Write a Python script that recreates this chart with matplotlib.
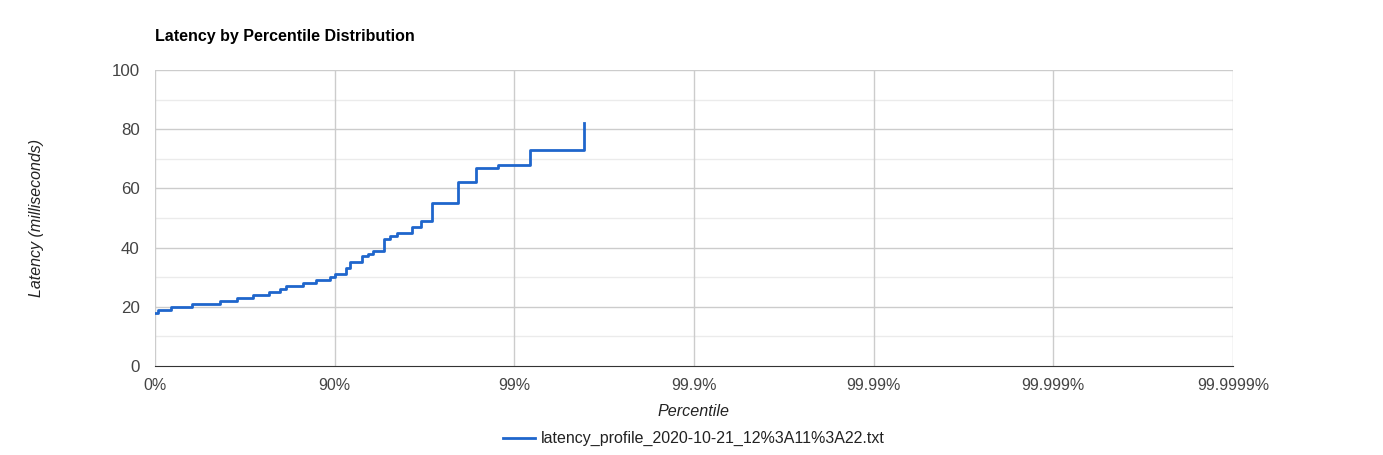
import matplotlib
matplotlib.use("Agg")
import matplotlib.pyplot as plt
import numpy as np
from matplotlib.lines import Line2D

plt.rcParams['font.family'] = ['Liberation Sans', 'DejaVu Sans']

# Percentile (in %) where each latency level starts, and latency (ms)
percentiles = [0.0, 4.1, 18.9, 37.5, 56.3, 64.9, 71.4, 76.7, 79.8, 81.3, 84.9, 87.3,
               89.4, 90.1, 91.4, 91.8, 93.0, 93.5, 93.9, 94.7, 95.1, 95.5, 96.3,
               96.7, 97.13, 97.95, 98.36, 98.77, 99.18, 99.59]
latency_ms = [18, 19, 20, 21, 22, 23, 24, 25, 26, 27, 28, 29, 30, 31, 33, 35, 37, 38,
              39, 43, 44, 45, 47, 49, 55, 62, 67, 68, 73, 82]

tick_labels = ["0%", "90%", "99%", "99.9%", "99.99%", "99.999%", "99.9999%"]
series_name = "latency_profile_2020-10-21_12%3A11%3A22.txt"

p = np.array(percentiles) / 100.0
xv = 1.0 / (1.0 - p)

fig = plt.figure(figsize=(13.83, 4.55), dpi=100)
ax = fig.add_axes([155/1383, 1-366/455, (1233-155)/1383, (366-70)/455])

ax.set_xscale('log')
ax.set_xlim(1, 1e6)
ax.set_ylim(0, 100)

line_color = '#1f66cc'
ax.plot(xv, latency_ms, drawstyle='steps-post', color=line_color, lw=2, zorder=3)

# grid
for v in range(10, 100, 20):
    ax.axhline(v, color='#ebebeb', lw=1, zorder=0)
for v in range(20, 101, 20):
    ax.axhline(v, color='#cccccc', lw=1, zorder=1)
for k in range(0, 7):
    ax.axvline(10**k, color='#cccccc', lw=1, zorder=1)

ax.set_xticks([10**k for k in range(7)])
ax.set_xticklabels(tick_labels)
ax.xaxis.set_minor_locator(matplotlib.ticker.NullLocator())
ax.set_yticks(range(0, 101, 20))
ax.tick_params(length=0, colors='#444444')
ax.tick_params(axis='x', pad=9, labelsize=11.5)
ax.tick_params(axis='y', pad=11, labelsize=12.2)

for s in ['top', 'right', 'left']:
    ax.spines[s].set_visible(False)
ax.spines['bottom'].set_color('#333333')
ax.spines['bottom'].set_zorder(4)

fig.text(155/1383, 1-36/455, "Latency by Percentile Distribution", fontsize=11.55,
         fontweight='bold', ha='left', va='center', color='#000000')
fig.text(694/1383, 1-411.5/455, "Percentile", fontsize=11.6, style='italic',
         ha='center', va='center', color='#222222')
fig.text(37/1383, 1-218/455, "Latency (milliseconds)", fontsize=11.5, style='italic',
         ha='center', va='center', rotation=90, color='#222222')

# legend
fig.add_artist(Line2D([503/1383, 535/1383], [1-438/455, 1-438/455],
                      color=line_color, lw=2, transform=fig.transFigure))
fig.text(541/1383, 1-438/455, series_name, fontsize=11.56, ha='left', va='center',
         color='#222222')

fig.savefig("out.png", dpi=100, facecolor='white')
